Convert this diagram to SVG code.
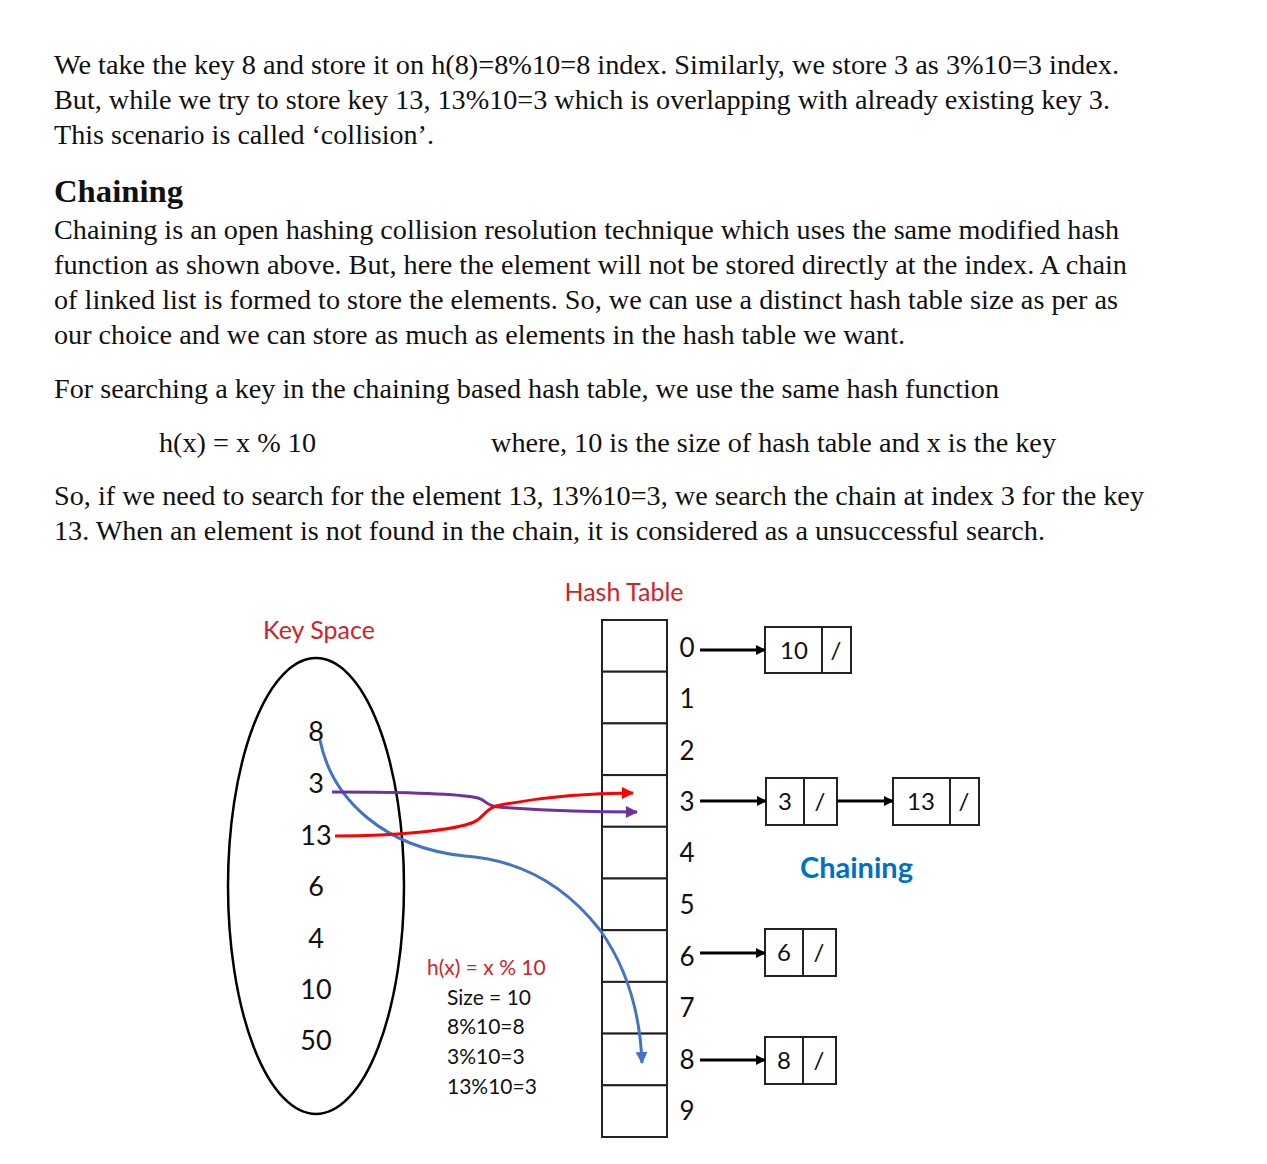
<svg xmlns="http://www.w3.org/2000/svg" width="1267" height="1164" viewBox="0 0 1267 1164">
<style>
.body{font-family:"Liberation Serif",serif;font-size:28px;fill:#111}
.h{font-family:"Liberation Serif",serif;font-size:32px;font-weight:bold;fill:#111}
.d{font-family:Lato,"Open Sans",sans-serif;fill:#111}
.num{font-size:27px}
.idx{font-size:26px}
.nd{font-size:24px}
.sm{font-size:21px}
.red{fill:#D0222A}
.blue{fill:#0070C0}
.cell{fill:#fff;stroke:#222;stroke-width:2}
.ln{fill:none;stroke-width:3}
</style>
<defs>
<marker id="ab" markerWidth="10" markerHeight="10" refX="9" refY="5" orient="auto" markerUnits="userSpaceOnUse"><path d="M0,0 L10,5 L0,10 z" fill="#000"/></marker>
<marker id="ar" markerWidth="12" markerHeight="12" refX="11" refY="6" orient="auto" markerUnits="userSpaceOnUse"><path d="M0,0 L12,6 L0,12 z" fill="#FF0000"/></marker>
<marker id="ap" markerWidth="12" markerHeight="12" refX="11" refY="6" orient="auto" markerUnits="userSpaceOnUse"><path d="M0,0 L12,6 L0,12 z" fill="#7030A0"/></marker>
<marker id="abl" markerWidth="12" markerHeight="12" refX="11" refY="6" orient="auto" markerUnits="userSpaceOnUse"><path d="M0,0 L12,6 L0,12 z" fill="#4472C4"/></marker>
</defs>
<rect width="1267" height="1164" fill="#fff"/>
<g id="text">
<text class="body" x="54" y="74" textLength="1065" lengthAdjust="spacingAndGlyphs">We take the key 8 and store it on h(8)=8%10=8 index. Similarly, we store 3 as 3%10=3 index.</text>
<text class="body" x="54" y="109" textLength="1056" lengthAdjust="spacingAndGlyphs">But, while we try to store key 13, 13%10=3 which is overlapping with already existing key 3.</text>
<text class="body" x="54" y="144" textLength="380" lengthAdjust="spacingAndGlyphs">This scenario is called ‘collision’.</text>
<text class="h" x="54" y="202" textLength="129" lengthAdjust="spacingAndGlyphs">Chaining</text>
<text class="body" x="54" y="239" textLength="1065" lengthAdjust="spacingAndGlyphs">Chaining is an open hashing collision resolution technique which uses the same modified hash</text>
<text class="body" x="54" y="274" textLength="1073" lengthAdjust="spacingAndGlyphs">function as shown above. But, here the element will not be stored directly at the index. A chain</text>
<text class="body" x="54" y="309" textLength="1064" lengthAdjust="spacingAndGlyphs">of linked list is formed to store the elements. So, we can use a distinct hash table size as per as</text>
<text class="body" x="54" y="344" textLength="851" lengthAdjust="spacingAndGlyphs">our choice and we can store as much as elements in the hash table we want.</text>
<text class="body" x="54" y="398" textLength="945" lengthAdjust="spacingAndGlyphs">For searching a key in the chaining based hash table, we use the same hash function</text>
<text class="body" x="159" y="452" textLength="157" lengthAdjust="spacingAndGlyphs">h(x) = x % 10</text>
<text class="body" x="491" y="452" textLength="565" lengthAdjust="spacingAndGlyphs">where, 10 is the size of hash table and x is the key</text>
<text class="body" x="54" y="505" textLength="1090" lengthAdjust="spacingAndGlyphs">So, if we need to search for the element 13, 13%10=3, we search the chain at index 3 for the key</text>
<text class="body" x="54" y="540" textLength="991" lengthAdjust="spacingAndGlyphs">13. When an element is not found in the chain, it is considered as a unsuccessful search.</text>
</g>
<g id="key-space">
<text class="d red" x="319" y="639" font-size="25" text-anchor="middle">Key Space</text>
<ellipse cx="316" cy="886" rx="88" ry="228" fill="none" stroke="#000" stroke-width="2.5"/>
<g class="d num" text-anchor="middle">
<text x="316" y="741">8</text>
<text x="316" y="793">3</text>
<text x="316" y="845">13</text>
<text x="316" y="896">6</text>
<text x="316" y="948">4</text>
<text x="316" y="999">10</text>
<text x="316" y="1050">50</text>
</g>
</g>
<g id="formula" class="d sm">
<text class="red" x="427" y="975">h(x) = x % 10</text>
<text x="447" y="1005">Size = 10</text>
<text x="447" y="1034">8%10=8</text>
<text x="447" y="1064">3%10=3</text>
<text x="447" y="1094">13%10=3</text>
</g>
<g id="hash-table">
<text class="d red" x="624" y="601" font-size="25" text-anchor="middle">Hash Table</text>
<rect class="cell" x="602" y="620" width="65" height="51.7"/>
<rect class="cell" x="602" y="671.7" width="65" height="51.7"/>
<rect class="cell" x="602" y="723.4" width="65" height="51.7"/>
<rect class="cell" x="602" y="775.1" width="65" height="51.7"/>
<rect class="cell" x="602" y="826.8" width="65" height="51.7"/>
<rect class="cell" x="602" y="878.5" width="65" height="51.7"/>
<rect class="cell" x="602" y="930.2" width="65" height="51.7"/>
<rect class="cell" x="602" y="981.9" width="65" height="51.7"/>
<rect class="cell" x="602" y="1033.6" width="65" height="51.7"/>
<rect class="cell" x="602" y="1085.3" width="65" height="51.7"/>
<g class="d idx" text-anchor="middle">
<text x="687" y="657">0</text>
<text x="687" y="708">1</text>
<text x="687" y="760">2</text>
<text x="687" y="811">3</text>
<text x="687" y="862">4</text>
<text x="687" y="914">5</text>
<text x="687" y="966">6</text>
<text x="687" y="1017">7</text>
<text x="687" y="1069">8</text>
<text x="687" y="1120">9</text>
</g>
</g>
<g id="node-10">
<rect class="cell" x="765" y="627" width="86" height="46"/>
<line x1="822" y1="627" x2="822" y2="673" stroke="#222" stroke-width="2"/>
<text class="d nd" x="794" y="659" text-anchor="middle">10</text>
<text class="d nd" x="836" y="659" text-anchor="middle">/</text>
</g>
<g id="node-3">
<rect class="cell" x="766" y="778" width="71" height="47"/>
<line x1="804" y1="778" x2="804" y2="825" stroke="#222" stroke-width="2"/>
<text class="d nd" x="785" y="810" text-anchor="middle">3</text>
<text class="d nd" x="820" y="810" text-anchor="middle">/</text>
</g>
<g id="node-13">
<rect class="cell" x="893" y="778" width="86" height="47"/>
<line x1="950" y1="778" x2="950" y2="825" stroke="#222" stroke-width="2"/>
<text class="d nd" x="921" y="810" text-anchor="middle">13</text>
<text class="d nd" x="964" y="810" text-anchor="middle">/</text>
</g>
<g id="node-6">
<rect class="cell" x="765" y="929" width="71" height="47"/>
<line x1="803" y1="929" x2="803" y2="976" stroke="#222" stroke-width="2"/>
<text class="d nd" x="784" y="961" text-anchor="middle">6</text>
<text class="d nd" x="819" y="961" text-anchor="middle">/</text>
</g>
<g id="node-8">
<rect class="cell" x="765" y="1037" width="71" height="47"/>
<line x1="803" y1="1037" x2="803" y2="1084" stroke="#222" stroke-width="2"/>
<text class="d nd" x="784" y="1069" text-anchor="middle">8</text>
<text class="d nd" x="819" y="1069" text-anchor="middle">/</text>
</g>
<text id="chaining-label" class="d blue" x="800" y="878" font-size="28" font-weight="bold" textLength="113" lengthAdjust="spacingAndGlyphs">Chaining</text>
<g id="connectors">
<line x1="700" y1="650" x2="765" y2="650" stroke="#000" stroke-width="3" marker-end="url(#ab)"/>
<line x1="700" y1="801" x2="766" y2="801" stroke="#000" stroke-width="3" marker-end="url(#ab)"/>
<line x1="837" y1="801" x2="893" y2="801" stroke="#000" stroke-width="3" marker-end="url(#ab)"/>
<line x1="700" y1="953" x2="765" y2="953" stroke="#000" stroke-width="3" marker-end="url(#ab)"/>
<line x1="700" y1="1060" x2="765" y2="1060" stroke="#000" stroke-width="3" marker-end="url(#ab)"/>
<path class="ln" stroke="#4472C4" d="M320,740 C332,800 385,848 465,856 C520,860 565,885 600,930 C625,965 640,1010 642,1063" marker-end="url(#abl)"/>
<path class="ln" stroke="#7030A0" d="M332,792 C400,792 460,794 478,798 C486,800 486,806 498,807 C540,810 590,812 637,812" marker-end="url(#ap)"/>
<path class="ln" stroke="#FF0000" d="M335,836 C400,836 455,830 474,822 C484,818 484,810 496,806 C540,797 590,793 633,793" marker-end="url(#ar)"/>
</g>
</svg>
